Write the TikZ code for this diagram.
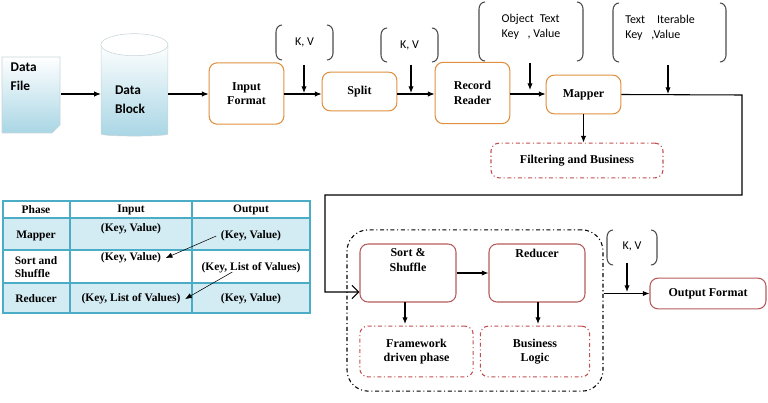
\documentclass[tikz,border=0pt]{standalone}
\usepackage{fontspec}
\setmainfont{Liberation Serif}
\newfontfamily\carlito{Carlito}
\usetikzlibrary{shapes.geometric,arrows.meta,positioning}
\definecolor{orangeb}{HTML}{E0913F}
\definecolor{redb}{HTML}{B55A5A}
\definecolor{dashred}{HTML}{C0504D}
\definecolor{tblue}{HTML}{4BACC6}
\definecolor{lblue}{HTML}{D3EBF3}
\definecolor{dblue}{HTML}{A9D6E5}
\tikzset{
  arr/.style={-{Latex[length=5pt,width=4pt]},thick},
  obox/.style={draw=orangeb,thick,rounded corners=6pt,font=\bfseries\small,align=center,minimum width=56pt},
  rbox/.style={draw=redb,thick,rounded corners=6pt,font=\bfseries\small,align=center},
  dbox/.style={draw=dashred,thick,dash dot,rounded corners=6pt,font=\bfseries\small,align=center},
  kv/.style={font=\carlito\small,align=left},
  cell/.style={font=\bfseries\fontsize{8.6}{10}\selectfont,align=center},
}
% bracket pair round a key/value label
\newcommand\kvbrack[4]{%
  \draw[thick,black!70] (#1+6,#2) to[out=180,in=90] (#1,#2+7) -- (#1,#4-7) to[out=-90,in=180] (#1+6,#4);
  \draw[thick,black!70] (#3-6,#2) to[out=0,in=90] (#3,#2+7) -- (#3,#4-7) to[out=-90,in=0] (#3-6,#4);}
\begin{document}
\begin{tikzpicture}[x=0.75pt,y=-0.75pt]
\useasboundingbox (0,0) rectangle (768,403);

% data file and block
\shade[top color=white,bottom color=dblue,draw=dblue!70!black!40]
  (2,57) -- (60,57) -- (60,125) -- (52,133) -- (2,133) -- cycle;
\node[font=\carlito\bfseries,align=left,anchor=north west] (file) at (6,58) {Data\\[2pt]File};
\coordinate (fileE) at (61,94);
\node[cylinder,shape border rotate=90,aspect=0.45,minimum width=50pt,minimum height=70pt,
  draw=dblue!70!black!40,top color=white,bottom color=dblue] (block) at (134.5,91) {};
\draw[dblue!70!black!40,fill=white] (block.before top) arc[start angle=180,end angle=360,x radius=33.5,y radius=-11]
  arc[start angle=0,end angle=180,x radius=33.5,y radius=-11];
\node[font=\carlito\bfseries,align=left] (blocktxt) at (130,100) {Data\\[2pt]Block};

\node[obox,minimum height=46pt] (input) at (246.5,93.5) {Input\\Format};
\node[obox,minimum height=29pt] (split) at (359.5,91.5) {Split};
\node[obox,minimum height=46pt] (reader) at (472.5,93) {Record\\Reader};
\node[obox,minimum height=29pt] (mapper) at (583.5,94.5) {Mapper};
\node[dbox,minimum width=129pt,minimum height=26pt] (filter) at (577,160.5) {Filtering and Business};

\draw[arr] (fileE) -- (fileE -| block.west);
\draw[arr] (block.east |- fileE) -- (input.west |- fileE);
\draw[arr] (input.east |- fileE) -- (split.west |- fileE);
\draw[arr] (split.east |- fileE) -- (reader.west |- fileE);
\draw[arr] (reader.east |- fileE) -- (mapper.west |- fileE);
\draw[arr] (mapper.south) -- (mapper.south |- filter.north);

% key value labels
\kvbrack{276}{25}{333}{60}
\node[kv] (kv1) at (304.5,42) {K, V};
\kvbrack{381}{28}{438}{62}
\node[kv] (kv2) at (409.5,45) {K, V};
\kvbrack{479}{2}{583}{61}
\node[kv] (kv3) at (531,27) {Object\enspace Text\\Key\enspace\ , Value};
\kvbrack{613}{3}{726}{62}
\node[kv] (kv4) at (660,28) {Text\quad Iterable\\Key\enspace\ ,Value};
\draw[arr] (304,65) -- (304,93);
\draw[arr] (411,65) -- (411,93);
\draw[arr] (530,63) -- (530,90);
\draw[arr] (668,65) -- (668,94);

% reduce side
\node[draw,thick,dash dot,rounded corners=16pt,minimum width=192pt,minimum height=121pt] (group) at (475,310.5) {};
\node[rbox,minimum width=72pt,minimum height=43.5pt] (sort) at (408,273) {Sort \&\\Shuffle\\[8pt]};
\node[rbox,minimum width=72pt,minimum height=43.5pt] (reducer) at (537,273) {Reducer\\[18pt]};
\node[dbox,minimum width=85pt,minimum height=38pt] (frame) at (416.5,351.5) {Framework\\driven phase};
\node[dbox,minimum width=82pt,minimum height=38pt] (logic) at (535,351.5) {Business\\Logic};
\node[rbox,minimum width=87pt,minimum height=23pt] (output) at (708,293.5) {Output Format};

\draw[thick,-{Straight Barb[length=5pt]}] (mapper.east) -- (742,95) -- (742,195) -- (325,195) -- (325,292) -- (sort.west |- 0,292);
\draw[arr] (sort.east) -- (reducer.west);
\draw[arr] (405,302) -- (405,324);
\draw[arr] (538,302) -- (538,324);
\draw[arr] (group.east |- output) -- (output.west);
\kvbrack{607}{230}{657}{265}
\node[kv] (kv5) at (632,246) {K, V};
\draw[arr] (627,263) -- (627,292);

% phase table
\fill[lblue] (3,218) rectangle (310,250);
\fill[lblue] (3,283) rectangle (310,313);
\draw[tblue,thick] (3,201) rectangle (310,313);
\draw[tblue,thick] (3,218) -- (310,218) (3,250) -- (310,250) (3,283) -- (310,283)
  (70,201) -- (70,313) (192,201) -- (192,313);
\node[cell] (hphase) at (36,210) {Phase};
\node[cell] (hin) at (131,210) {Input};
\node[cell] (hout) at (251,210) {Output};
\node[cell] (pmap) at (36,236) {Mapper};
\node[cell] (imap) at (131,229) {(Key, Value)};
\node[cell] (omap) at (251,236) {(Key, Value)};
\node[cell,align=left] (psort) at (36,267) {Sort and\\Shuffle};
\node[cell] (isort) at (131,258) {(Key, Value)};
\node[cell] (osort) at (251,268) {(Key, List of Values)};
\node[cell] (pred) at (36,299) {Reducer};
\node[cell] (ired) at (131,299) {(Key, List of Values)};
\node[cell] (ored) at (251,299) {(Key, Value)};
\draw[arr,thin] (omap.west) -- (isort.east);
\draw[arr,thin] ([xshift=-14pt,yshift=-3pt]osort.center) -- (ired.east);
\end{tikzpicture}
\end{document}
